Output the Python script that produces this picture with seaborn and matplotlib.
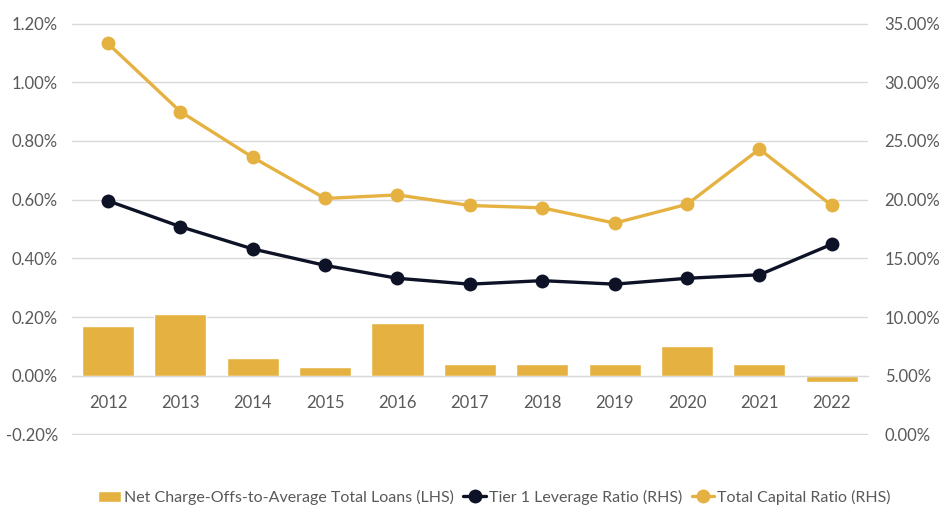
import matplotlib
matplotlib.use("Agg")
import matplotlib.pyplot as plt
import matplotlib.ticker as mtick
import seaborn as sns
import pandas as pd

years = ["2012", "2013", "2014", "2015", "2016", "2017", "2018", "2019", "2020", "2021", "2022"]
net_charge_offs = [0.17, 0.21, 0.06, 0.03, 0.18, 0.04, 0.04, 0.04, 0.10, 0.04, -0.02]
tier1_leverage = [19.9, 17.7, 15.8, 14.4, 13.3, 12.8, 13.1, 12.8, 13.3, 13.6, 16.2]
total_capital = [33.3, 27.5, 23.6, 20.1, 20.4, 19.5, 19.3, 18.0, 19.6, 24.3, 19.5]

gold = "#E5B242"
navy = "#0D1226"
grey = "#595959"

df = pd.DataFrame({"year": years, "nco": net_charge_offs,
                   "tier1": tier1_leverage, "total": total_capital})
df["pos"] = range(len(df))

sns.set_style("white")
plt.rcParams["font.family"] = ["Lato", "DejaVu Sans"]

fig = plt.figure(figsize=(9.44, 5.21), dpi=100)
ax = fig.add_axes([0.076, 0.165, 0.8435, 0.791])

sns.barplot(data=df, x="year", y="nco", color=gold, saturation=1, width=0.72,
            ax=ax, label="Net Charge-Offs-to-Average Total Loans (LHS)", zorder=2)
ax.set_ylim(-0.202, 1.202)
ax.set_yticks([-0.2, 0, 0.2, 0.4, 0.6, 0.8, 1.0, 1.2])
ax.yaxis.set_major_formatter(mtick.FuncFormatter(lambda v, p: f"{v:.2f}%"))
ax.grid(axis="y", color="#D9D9D9", lw=1, zorder=0)
ax.set_axisbelow(True)
for s in ["top", "right", "left"]:
    ax.spines[s].set_visible(False)
ax.spines["bottom"].set_position(("data", 0))
ax.spines["bottom"].set_color("#D9D9D9")
ax.tick_params(axis="both", length=0, labelsize=12, labelcolor=grey)
ax.tick_params(axis="x", pad=14)
ax.tick_params(axis="y", pad=10)
ax.set_xlabel("")
ax.set_ylabel("")
ax.set_xlim(-0.5, len(years) - 0.5)

ax2 = ax.twinx()
sns.lineplot(data=df, x="pos", y="tier1", ax=ax2, color=navy, lw=2.4, marker="o",
             markersize=10, markeredgewidth=0, label="Tier 1 Leverage Ratio (RHS)")
sns.lineplot(data=df, x="pos", y="total", ax=ax2, color=gold, lw=2.4, marker="o",
             markersize=10, markeredgewidth=0, label="Total Capital Ratio (RHS)")
ax2.set_ylim(-0.05, 35.05)
ax2.set_yticks(range(0, 36, 5))
ax2.yaxis.set_major_formatter(mtick.FuncFormatter(lambda v, p: f"{v:.2f}%"))
for s in ax2.spines.values():
    s.set_visible(False)
ax2.tick_params(axis="y", length=0, labelsize=12, labelcolor=grey, pad=12)
ax2.set_xlabel("")
ax2.set_ylabel("")
ax2.set_xlim(-0.5, len(years) - 0.5)

h1, l1 = ax.get_legend_handles_labels()
h2, l2 = ax2.get_legend_handles_labels()
ax2.get_legend().remove()
if ax.get_legend():
    ax.get_legend().remove()
fig.legend(h1 + h2, l1 + l2, loc="center", bbox_to_anchor=(0.524, 0.045), ncol=3,
           frameon=False, fontsize=11.5, labelcolor=grey, handlelength=1.4,
           handletextpad=0.2, columnspacing=0.6)

fig.savefig("out.png", dpi=100)
